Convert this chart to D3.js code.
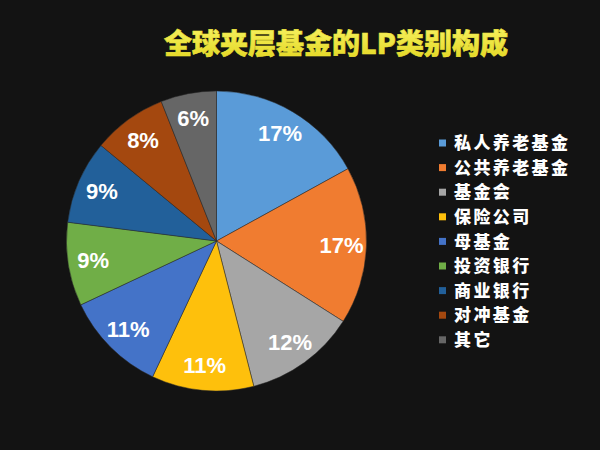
<!DOCTYPE html>
<html><head><meta charset="utf-8">
<script src="https://cdn.jsdelivr.net/npm/d3@7/dist/d3.min.js"></script>
<style>html,body{margin:0;padding:0;background:#131313;}svg{display:block;}</style>
</head><body>
<script>
const categories = ["私人养老基金","公共养老基金","基金会","保险公司","母基金","投资银行","商业银行","对冲基金","其它"];
const values = [17,17,12,11,11,9,9,8,6];
const colors = ["#5a9bd8","#f07c30","#a6a6a6","#fec00c","#4473c8","#70ae47","#22609a","#a4480f","#666666"];
const title = "全球夹层基金的LP类别构成";

const W = 600, H = 450;
const svg = d3.select("body").append("svg").attr("width", W).attr("height", H);
svg.append("rect").attr("width", W).attr("height", H).attr("fill", "#131313");

const defs = svg.append("defs");
const tg = defs.append("linearGradient").attr("id", "tg").attr("x1", 0).attr("y1", 0).attr("x2", 0).attr("y2", 1);
tg.append("stop").attr("offset", "0%").attr("stop-color", "#f9f56a");
tg.append("stop").attr("offset", "100%").attr("stop-color", "#e2d51e");

const font = "'Noto Sans CJK SC','Noto Sans',sans-serif";
svg.append("text").attr("x", 336).attr("y", 54).attr("text-anchor", "middle")
  .attr("font-family", font).attr("font-weight", 900).attr("font-size", 28)
  .attr("fill", "url(#tg)").attr("stroke", "#eee53a").attr("stroke-width", 0.6)
  .text(title);

const cx = 216.5, cy = 241, r = 150;
const data = categories.map((c, i) => ({c, v: values[i], col: colors[i]}));
const pie = d3.pie().value(d => d.v).sort(null);
const arc = d3.arc().innerRadius(0).outerRadius(r);
const labelArc = d3.arc().innerRadius(125).outerRadius(125);
const g = svg.append("g").attr("transform", `translate(${cx},${cy})`);
const arcs = pie(data);
g.selectAll("path").data(arcs).join("path").attr("d", arc).attr("fill", d => d.data.col)
  .attr("stroke", "#2a2a2a").attr("stroke-width", 0.5);
g.selectAll("text").data(arcs).join("text")
  .attr("transform", d => `translate(${labelArc.centroid(d)})`)
  .attr("text-anchor", "middle").attr("dy", "0.36em")
  .attr("font-family", "'Liberation Sans',Arial,sans-serif").attr("font-weight", "bold").attr("font-size", 22)
  .attr("fill", "#ffffff").text(d => d.data.v + "%");

const lg = svg.append("g");
const y0 = 143, step = 24.6;
data.forEach((d, i) => {
  const y = y0 + i * step;
  lg.append("rect").attr("x", 439).attr("y", y - 3.5).attr("width", 7).attr("height", 7).attr("fill", d.col);
  lg.append("text").attr("x", 454).attr("y", y).attr("dy", "0.36em")
    .attr("font-family", font).attr("font-weight", 900).attr("font-size", 17)
    .attr("letter-spacing", 2.4)
    .attr("fill", "#ffffff").text(d.c);
});
</script>
</body></html>
